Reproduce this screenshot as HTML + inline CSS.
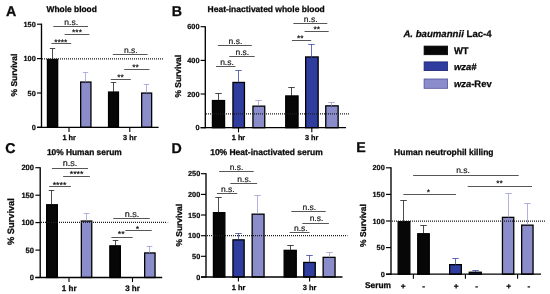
<!DOCTYPE html>
<html><head><meta charset="utf-8"><title>Figure</title>
<style>html,body{margin:0;padding:0;background:#fff}svg{display:block}text{font-family:"Liberation Sans",Arial,Helvetica,sans-serif;text-rendering:geometricPrecision}</style>
</head><body>
<svg width="550" height="294" viewBox="0 0 550 294">
<rect width="550" height="294" fill="#fff"/>
<text x="6.10" y="15.90" font-size="14.20" font-weight="bold" text-anchor="start" fill="#0a0a0a" stroke="#0a0a0a" stroke-width="0.28">A</text>
<text x="46.60" y="12.30" font-size="8.39" font-weight="bold" text-anchor="start" fill="#0a0a0a" stroke="#0a0a0a" stroke-width="0.28">Whole blood</text>
<text x="17.10" y="75.00" font-size="8.46" font-weight="bold" text-anchor="middle" fill="#0a0a0a" stroke="#0a0a0a" stroke-width="0.28" transform="rotate(-90 17.10 75.00)">% Survival</text>
<rect x="47.45" y="59.45" width="10.20" height="67.85" fill="#070707" stroke="#000" stroke-width="1.3"/>
<rect x="80.65" y="82.05" width="10.30" height="45.25" fill="#8b8dcb" stroke="#000" stroke-width="1.3"/>
<rect x="108.55" y="92.05" width="9.90" height="35.25" fill="#070707" stroke="#000" stroke-width="1.3"/>
<rect x="141.65" y="93.05" width="10.00" height="34.25" fill="#8b8dcb" stroke="#000" stroke-width="1.3"/>
<line x1="52.50" y1="48.50" x2="52.50" y2="59.00" stroke="#111" stroke-width="0.75"/>
<line x1="49.80" y1="48.50" x2="55.20" y2="48.50" stroke="#111" stroke-width="0.75"/>
<line x1="85.50" y1="72.50" x2="85.50" y2="82.00" stroke="#8f91d0" stroke-width="0.7"/>
<line x1="82.80" y1="72.50" x2="88.20" y2="72.50" stroke="#8f91d0" stroke-width="0.7"/>
<line x1="113.50" y1="82.50" x2="113.50" y2="92.00" stroke="#111" stroke-width="0.75"/>
<line x1="110.80" y1="82.50" x2="116.20" y2="82.50" stroke="#111" stroke-width="0.75"/>
<line x1="146.50" y1="84.50" x2="146.50" y2="93.00" stroke="#8f91d0" stroke-width="0.7"/>
<line x1="143.80" y1="84.50" x2="149.20" y2="84.50" stroke="#8f91d0" stroke-width="0.7"/>
<line x1="41.50" y1="23.65" x2="41.50" y2="127.80" stroke="#000" stroke-width="1.35"/>
<line x1="37.00" y1="24.20" x2="41.50" y2="24.20" stroke="#000" stroke-width="1.15"/>
<text transform="translate(35.75 26.83) scale(1.000 1)" font-size="7.35" font-weight="bold" text-anchor="end" fill="#0a0a0a" stroke="#0a0a0a" stroke-width="0.2">150</text>
<line x1="37.00" y1="58.60" x2="41.50" y2="58.60" stroke="#000" stroke-width="1.15"/>
<text transform="translate(35.75 61.23) scale(1.000 1)" font-size="7.35" font-weight="bold" text-anchor="end" fill="#0a0a0a" stroke="#0a0a0a" stroke-width="0.2">100</text>
<line x1="37.00" y1="93.00" x2="41.50" y2="93.00" stroke="#000" stroke-width="1.15"/>
<text transform="translate(35.75 95.63) scale(1.000 1)" font-size="7.35" font-weight="bold" text-anchor="end" fill="#0a0a0a" stroke="#0a0a0a" stroke-width="0.2">50</text>
<line x1="37.00" y1="127.30" x2="41.50" y2="127.30" stroke="#000" stroke-width="1.15"/>
<text transform="translate(35.75 129.93) scale(1.000 1)" font-size="7.35" font-weight="bold" text-anchor="end" fill="#0a0a0a" stroke="#0a0a0a" stroke-width="0.2">0</text>
<line x1="37.00" y1="127.30" x2="158.60" y2="127.30" stroke="#000" stroke-width="1.3"/>
<line x1="69.00" y1="127.30" x2="69.00" y2="131.90" stroke="#000" stroke-width="1.1"/>
<line x1="129.80" y1="127.30" x2="129.80" y2="131.90" stroke="#000" stroke-width="1.1"/>
<text x="69.10" y="139.80" font-size="7.30" font-weight="bold" text-anchor="middle" fill="#0a0a0a" stroke="#0a0a0a" stroke-width="0.28">1 hr</text>
<text x="129.80" y="139.80" font-size="7.30" font-weight="bold" text-anchor="middle" fill="#0a0a0a" stroke="#0a0a0a" stroke-width="0.28">3 hr</text>
<line x1="42.00" y1="58.80" x2="163.70" y2="58.80" stroke="#1c1c1c" stroke-width="1.2" stroke-dasharray="1 1"/>
<line x1="53.30" y1="26.50" x2="88.00" y2="26.50" stroke="#444" stroke-width="0.9"/>
<text x="71.20" y="25.00" font-size="8.50" font-weight="normal" text-anchor="middle" fill="#1a1a1a" stroke="#1a1a1a" stroke-width="0.2">n.s.</text>
<line x1="64.60" y1="34.50" x2="89.40" y2="34.50" stroke="#444" stroke-width="0.9"/>
<text x="77.00" y="34.67" font-size="8.40" font-weight="normal" text-anchor="middle" fill="#000" stroke="#000" stroke-width="0.14">***</text>
<line x1="51.40" y1="43.50" x2="71.20" y2="43.50" stroke="#444" stroke-width="0.9"/>
<text x="60.80" y="45.07" font-size="8.40" font-weight="normal" text-anchor="middle" fill="#000" stroke="#000" stroke-width="0.14">****</text>
<line x1="112.80" y1="54.50" x2="147.60" y2="54.50" stroke="#444" stroke-width="0.9"/>
<text x="130.80" y="53.30" font-size="8.50" font-weight="normal" text-anchor="middle" fill="#1a1a1a" stroke="#1a1a1a" stroke-width="0.2">n.s.</text>
<line x1="124.20" y1="69.50" x2="149.40" y2="69.50" stroke="#444" stroke-width="0.9"/>
<text x="135.50" y="70.37" font-size="8.40" font-weight="normal" text-anchor="middle" fill="#000" stroke="#000" stroke-width="0.14">**</text>
<line x1="110.80" y1="79.50" x2="130.80" y2="79.50" stroke="#444" stroke-width="0.9"/>
<text x="120.40" y="80.27" font-size="8.40" font-weight="normal" text-anchor="middle" fill="#000" stroke="#000" stroke-width="0.14">**</text>
<text x="171.80" y="15.80" font-size="14.20" font-weight="bold" text-anchor="start" fill="#0a0a0a" stroke="#0a0a0a" stroke-width="0.28">B</text>
<text x="207.60" y="12.20" font-size="8.47" font-weight="bold" text-anchor="start" fill="#0a0a0a" stroke="#0a0a0a" stroke-width="0.28">Heat-inactivated whole blood</text>
<text x="181.20" y="76.20" font-size="8.46" font-weight="bold" text-anchor="middle" fill="#0a0a0a" stroke="#0a0a0a" stroke-width="0.28" transform="rotate(-90 181.20 76.20)">% Survival</text>
<rect x="212.45" y="100.55" width="12.10" height="27.15" fill="#070707" stroke="#000" stroke-width="1.3"/>
<rect x="232.95" y="82.45" width="11.50" height="45.25" fill="#2f3d9f" stroke="#000" stroke-width="1.3"/>
<rect x="252.95" y="106.15" width="11.80" height="21.55" fill="#8b8dcb" stroke="#000" stroke-width="1.3"/>
<rect x="285.75" y="95.95" width="12.30" height="31.75" fill="#070707" stroke="#000" stroke-width="1.3"/>
<rect x="305.65" y="56.95" width="12.50" height="70.75" fill="#2f3d9f" stroke="#000" stroke-width="1.3"/>
<rect x="325.75" y="105.85" width="12.40" height="21.85" fill="#8b8dcb" stroke="#000" stroke-width="1.3"/>
<line x1="218.50" y1="93.50" x2="218.50" y2="100.00" stroke="#111" stroke-width="0.75"/>
<line x1="215.25" y1="93.50" x2="221.75" y2="93.50" stroke="#111" stroke-width="0.75"/>
<line x1="238.50" y1="70.50" x2="238.50" y2="82.50" stroke="#2f3d9f" stroke-width="0.75"/>
<line x1="235.25" y1="70.50" x2="241.75" y2="70.50" stroke="#2f3d9f" stroke-width="0.75"/>
<line x1="258.50" y1="100.50" x2="258.50" y2="106.00" stroke="#8f91d0" stroke-width="0.7"/>
<line x1="255.25" y1="100.50" x2="261.75" y2="100.50" stroke="#8f91d0" stroke-width="0.7"/>
<line x1="291.50" y1="87.50" x2="291.50" y2="96.00" stroke="#111" stroke-width="0.75"/>
<line x1="288.25" y1="87.50" x2="294.75" y2="87.50" stroke="#111" stroke-width="0.75"/>
<line x1="311.50" y1="44.50" x2="311.50" y2="60.00" stroke="#2f3d9f" stroke-width="0.75"/>
<line x1="308.25" y1="44.50" x2="314.75" y2="44.50" stroke="#2f3d9f" stroke-width="0.75"/>
<line x1="331.50" y1="102.50" x2="331.50" y2="106.00" stroke="#8f91d0" stroke-width="0.7"/>
<line x1="328.25" y1="102.50" x2="334.75" y2="102.50" stroke="#8f91d0" stroke-width="0.7"/>
<line x1="205.30" y1="26.15" x2="205.30" y2="128.20" stroke="#000" stroke-width="1.35"/>
<line x1="200.60" y1="26.70" x2="205.30" y2="26.70" stroke="#000" stroke-width="1.15"/>
<text transform="translate(199.55 29.33) scale(1.000 1)" font-size="7.35" font-weight="bold" text-anchor="end" fill="#0a0a0a" stroke="#0a0a0a" stroke-width="0.2">600</text>
<line x1="200.60" y1="60.40" x2="205.30" y2="60.40" stroke="#000" stroke-width="1.15"/>
<text transform="translate(199.55 63.03) scale(1.000 1)" font-size="7.35" font-weight="bold" text-anchor="end" fill="#0a0a0a" stroke="#0a0a0a" stroke-width="0.2">400</text>
<line x1="200.60" y1="94.00" x2="205.30" y2="94.00" stroke="#000" stroke-width="1.15"/>
<text transform="translate(199.55 96.63) scale(1.000 1)" font-size="7.35" font-weight="bold" text-anchor="end" fill="#0a0a0a" stroke="#0a0a0a" stroke-width="0.2">200</text>
<line x1="200.60" y1="127.70" x2="205.30" y2="127.70" stroke="#000" stroke-width="1.15"/>
<text transform="translate(199.55 130.33) scale(1.000 1)" font-size="7.35" font-weight="bold" text-anchor="end" fill="#0a0a0a" stroke="#0a0a0a" stroke-width="0.2">0</text>
<line x1="200.60" y1="127.70" x2="346.00" y2="127.70" stroke="#000" stroke-width="1.3"/>
<line x1="238.50" y1="127.70" x2="238.50" y2="132.30" stroke="#000" stroke-width="1.1"/>
<line x1="311.80" y1="127.70" x2="311.80" y2="132.30" stroke="#000" stroke-width="1.1"/>
<text x="238.50" y="139.80" font-size="7.30" font-weight="bold" text-anchor="middle" fill="#0a0a0a" stroke="#0a0a0a" stroke-width="0.28">1 hr</text>
<text x="311.60" y="139.80" font-size="7.30" font-weight="bold" text-anchor="middle" fill="#0a0a0a" stroke="#0a0a0a" stroke-width="0.28">3 hr</text>
<line x1="206.00" y1="113.90" x2="350.00" y2="113.90" stroke="#1c1c1c" stroke-width="1.2" stroke-dasharray="1 1"/>
<line x1="217.90" y1="45.50" x2="251.80" y2="45.50" stroke="#444" stroke-width="0.9"/>
<text x="235.40" y="43.70" font-size="8.50" font-weight="normal" text-anchor="middle" fill="#1a1a1a" stroke="#1a1a1a" stroke-width="0.2">n.s.</text>
<line x1="229.30" y1="56.50" x2="254.70" y2="56.50" stroke="#444" stroke-width="0.9"/>
<text x="242.30" y="54.70" font-size="8.50" font-weight="normal" text-anchor="middle" fill="#1a1a1a" stroke="#1a1a1a" stroke-width="0.2">n.s.</text>
<line x1="216.00" y1="66.50" x2="235.40" y2="66.50" stroke="#444" stroke-width="0.9"/>
<text x="227.00" y="64.80" font-size="8.50" font-weight="normal" text-anchor="middle" fill="#1a1a1a" stroke="#1a1a1a" stroke-width="0.2">n.s.</text>
<line x1="293.30" y1="23.50" x2="327.30" y2="23.50" stroke="#444" stroke-width="0.9"/>
<text x="310.70" y="21.90" font-size="8.50" font-weight="normal" text-anchor="middle" fill="#1a1a1a" stroke="#1a1a1a" stroke-width="0.2">n.s.</text>
<line x1="304.60" y1="31.50" x2="328.70" y2="31.50" stroke="#444" stroke-width="0.9"/>
<text x="316.70" y="31.67" font-size="8.40" font-weight="normal" text-anchor="middle" fill="#000" stroke="#000" stroke-width="0.14">**</text>
<line x1="291.90" y1="40.50" x2="311.20" y2="40.50" stroke="#444" stroke-width="0.9"/>
<text x="300.20" y="41.37" font-size="8.40" font-weight="normal" text-anchor="middle" fill="#000" stroke="#000" stroke-width="0.14">**</text>
<text x="5.20" y="153.00" font-size="14.20" font-weight="bold" text-anchor="start" fill="#0a0a0a" stroke="#0a0a0a" stroke-width="0.28">C</text>
<text x="46.90" y="154.60" font-size="8.37" font-weight="bold" text-anchor="start" fill="#0a0a0a" stroke="#0a0a0a" stroke-width="0.28">10% Human serum</text>
<text x="14.35" y="221.60" font-size="9.28" font-weight="bold" text-anchor="middle" fill="#0a0a0a" stroke="#0a0a0a" stroke-width="0.28" transform="rotate(-90 14.35 221.60)">% Survival</text>
<rect x="46.65" y="204.75" width="10.70" height="72.75" fill="#070707" stroke="#000" stroke-width="1.3"/>
<rect x="81.35" y="221.05" width="10.40" height="56.45" fill="#8b8dcb" stroke="#000" stroke-width="1.3"/>
<rect x="109.85" y="245.85" width="10.50" height="31.65" fill="#070707" stroke="#000" stroke-width="1.3"/>
<rect x="144.65" y="252.95" width="10.40" height="24.55" fill="#8b8dcb" stroke="#000" stroke-width="1.3"/>
<line x1="51.50" y1="190.50" x2="51.50" y2="205.00" stroke="#111" stroke-width="0.75"/>
<line x1="48.70" y1="190.50" x2="54.30" y2="190.50" stroke="#111" stroke-width="0.75"/>
<line x1="86.50" y1="213.50" x2="86.50" y2="221.00" stroke="#8f91d0" stroke-width="0.7"/>
<line x1="83.70" y1="213.50" x2="89.30" y2="213.50" stroke="#8f91d0" stroke-width="0.7"/>
<line x1="115.50" y1="240.50" x2="115.50" y2="246.00" stroke="#111" stroke-width="0.75"/>
<line x1="112.70" y1="240.50" x2="118.30" y2="240.50" stroke="#111" stroke-width="0.75"/>
<line x1="149.50" y1="246.50" x2="149.50" y2="253.00" stroke="#8f91d0" stroke-width="0.7"/>
<line x1="146.70" y1="246.50" x2="152.30" y2="246.50" stroke="#8f91d0" stroke-width="0.7"/>
<line x1="40.20" y1="167.15" x2="40.20" y2="278.00" stroke="#000" stroke-width="1.35"/>
<line x1="35.40" y1="167.70" x2="40.20" y2="167.70" stroke="#000" stroke-width="1.15"/>
<text transform="translate(34.05 170.42) scale(1.000 1)" font-size="7.60" font-weight="bold" text-anchor="end" fill="#0a0a0a" stroke="#0a0a0a" stroke-width="0.2">200</text>
<line x1="35.40" y1="195.20" x2="40.20" y2="195.20" stroke="#000" stroke-width="1.15"/>
<text transform="translate(34.05 197.92) scale(1.000 1)" font-size="7.60" font-weight="bold" text-anchor="end" fill="#0a0a0a" stroke="#0a0a0a" stroke-width="0.2">150</text>
<line x1="35.40" y1="222.60" x2="40.20" y2="222.60" stroke="#000" stroke-width="1.15"/>
<text transform="translate(34.05 225.32) scale(1.000 1)" font-size="7.60" font-weight="bold" text-anchor="end" fill="#0a0a0a" stroke="#0a0a0a" stroke-width="0.2">100</text>
<line x1="35.40" y1="250.10" x2="40.20" y2="250.10" stroke="#000" stroke-width="1.15"/>
<text transform="translate(34.05 252.82) scale(1.000 1)" font-size="7.60" font-weight="bold" text-anchor="end" fill="#0a0a0a" stroke="#0a0a0a" stroke-width="0.2">50</text>
<line x1="35.40" y1="277.50" x2="40.20" y2="277.50" stroke="#000" stroke-width="1.15"/>
<text transform="translate(34.05 280.22) scale(1.000 1)" font-size="7.60" font-weight="bold" text-anchor="end" fill="#0a0a0a" stroke="#0a0a0a" stroke-width="0.2">0</text>
<line x1="35.40" y1="277.50" x2="162.20" y2="277.50" stroke="#000" stroke-width="1.3"/>
<line x1="69.00" y1="277.50" x2="69.00" y2="282.10" stroke="#000" stroke-width="1.1"/>
<line x1="132.50" y1="277.50" x2="132.50" y2="282.10" stroke="#000" stroke-width="1.1"/>
<text x="69.20" y="290.60" font-size="8.00" font-weight="bold" text-anchor="middle" fill="#0a0a0a" stroke="#0a0a0a" stroke-width="0.28">1 hr</text>
<text x="132.50" y="290.60" font-size="8.00" font-weight="bold" text-anchor="middle" fill="#0a0a0a" stroke="#0a0a0a" stroke-width="0.28">3 hr</text>
<line x1="41.00" y1="222.30" x2="166.60" y2="222.30" stroke="#1c1c1c" stroke-width="1.2" stroke-dasharray="1 1"/>
<line x1="51.90" y1="168.50" x2="88.00" y2="168.50" stroke="#444" stroke-width="0.9"/>
<text x="70.10" y="166.20" font-size="9.00" font-weight="normal" text-anchor="middle" fill="#1a1a1a" stroke="#1a1a1a" stroke-width="0.2">n.s.</text>
<line x1="63.10" y1="176.50" x2="89.90" y2="176.50" stroke="#444" stroke-width="0.9"/>
<text x="76.60" y="177.40" font-size="8.80" font-weight="normal" text-anchor="middle" fill="#000" stroke="#000" stroke-width="0.14">****</text>
<line x1="49.20" y1="186.50" x2="70.90" y2="186.50" stroke="#444" stroke-width="0.9"/>
<text x="59.50" y="187.60" font-size="8.80" font-weight="normal" text-anchor="middle" fill="#000" stroke="#000" stroke-width="0.14">****</text>
<line x1="113.30" y1="218.50" x2="149.80" y2="218.50" stroke="#444" stroke-width="0.9"/>
<text x="132.00" y="217.00" font-size="9.00" font-weight="normal" text-anchor="middle" fill="#1a1a1a" stroke="#1a1a1a" stroke-width="0.2">n.s.</text>
<line x1="125.30" y1="230.50" x2="151.70" y2="230.50" stroke="#444" stroke-width="0.9"/>
<text x="137.50" y="231.90" font-size="8.80" font-weight="normal" text-anchor="middle" fill="#000" stroke="#000" stroke-width="0.14">*</text>
<line x1="111.40" y1="237.50" x2="132.70" y2="237.50" stroke="#444" stroke-width="0.9"/>
<text x="121.30" y="237.40" font-size="8.80" font-weight="normal" text-anchor="middle" fill="#000" stroke="#000" stroke-width="0.14">**</text>
<text x="171.50" y="152.50" font-size="14.20" font-weight="bold" text-anchor="start" fill="#0a0a0a" stroke="#0a0a0a" stroke-width="0.28">D</text>
<text x="210.20" y="154.60" font-size="8.48" font-weight="bold" text-anchor="start" fill="#0a0a0a" stroke="#0a0a0a" stroke-width="0.28">10% Heat-inactivated serum</text>
<text x="181.70" y="225.20" font-size="8.46" font-weight="bold" text-anchor="middle" fill="#0a0a0a" stroke="#0a0a0a" stroke-width="0.28" transform="rotate(-90 181.70 225.20)">% Survival</text>
<rect x="213.45" y="212.65" width="11.40" height="64.35" fill="#070707" stroke="#000" stroke-width="1.3"/>
<rect x="232.95" y="239.85" width="11.20" height="37.15" fill="#2f3d9f" stroke="#000" stroke-width="1.3"/>
<rect x="252.15" y="214.15" width="11.90" height="62.85" fill="#8b8dcb" stroke="#000" stroke-width="1.3"/>
<rect x="284.15" y="250.35" width="12.10" height="26.65" fill="#070707" stroke="#000" stroke-width="1.3"/>
<rect x="303.75" y="262.45" width="11.50" height="14.55" fill="#2f3d9f" stroke="#000" stroke-width="1.3"/>
<rect x="323.15" y="257.35" width="11.90" height="19.65" fill="#8b8dcb" stroke="#000" stroke-width="1.3"/>
<line x1="218.50" y1="197.50" x2="218.50" y2="213.00" stroke="#111" stroke-width="0.75"/>
<line x1="215.25" y1="197.50" x2="221.75" y2="197.50" stroke="#111" stroke-width="0.75"/>
<line x1="238.50" y1="233.50" x2="238.50" y2="240.00" stroke="#2f3d9f" stroke-width="0.75"/>
<line x1="235.25" y1="233.50" x2="241.75" y2="233.50" stroke="#2f3d9f" stroke-width="0.75"/>
<line x1="257.50" y1="195.50" x2="257.50" y2="214.00" stroke="#8f91d0" stroke-width="0.7"/>
<line x1="254.25" y1="195.50" x2="260.75" y2="195.50" stroke="#8f91d0" stroke-width="0.7"/>
<line x1="290.50" y1="245.50" x2="290.50" y2="250.00" stroke="#111" stroke-width="0.75"/>
<line x1="287.25" y1="245.50" x2="293.75" y2="245.50" stroke="#111" stroke-width="0.75"/>
<line x1="309.50" y1="255.50" x2="309.50" y2="262.50" stroke="#2f3d9f" stroke-width="0.75"/>
<line x1="306.25" y1="255.50" x2="312.75" y2="255.50" stroke="#2f3d9f" stroke-width="0.75"/>
<line x1="329.50" y1="252.50" x2="329.50" y2="257.50" stroke="#8f91d0" stroke-width="0.7"/>
<line x1="326.25" y1="252.50" x2="332.75" y2="252.50" stroke="#8f91d0" stroke-width="0.7"/>
<line x1="206.00" y1="173.15" x2="206.00" y2="277.50" stroke="#000" stroke-width="1.35"/>
<line x1="201.00" y1="173.70" x2="206.00" y2="173.70" stroke="#000" stroke-width="1.15"/>
<text transform="translate(200.25 176.33) scale(1.000 1)" font-size="7.35" font-weight="bold" text-anchor="end" fill="#0a0a0a" stroke="#0a0a0a" stroke-width="0.2">250</text>
<line x1="201.00" y1="194.40" x2="206.00" y2="194.40" stroke="#000" stroke-width="1.15"/>
<text transform="translate(200.25 197.03) scale(1.000 1)" font-size="7.35" font-weight="bold" text-anchor="end" fill="#0a0a0a" stroke="#0a0a0a" stroke-width="0.2">200</text>
<line x1="201.00" y1="215.00" x2="206.00" y2="215.00" stroke="#000" stroke-width="1.15"/>
<text transform="translate(200.25 217.63) scale(1.000 1)" font-size="7.35" font-weight="bold" text-anchor="end" fill="#0a0a0a" stroke="#0a0a0a" stroke-width="0.2">150</text>
<line x1="201.00" y1="235.70" x2="206.00" y2="235.70" stroke="#000" stroke-width="1.15"/>
<text transform="translate(200.25 238.33) scale(1.000 1)" font-size="7.35" font-weight="bold" text-anchor="end" fill="#0a0a0a" stroke="#0a0a0a" stroke-width="0.2">100</text>
<line x1="201.00" y1="256.30" x2="206.00" y2="256.30" stroke="#000" stroke-width="1.15"/>
<text transform="translate(200.25 258.93) scale(1.000 1)" font-size="7.35" font-weight="bold" text-anchor="end" fill="#0a0a0a" stroke="#0a0a0a" stroke-width="0.2">50</text>
<line x1="201.00" y1="277.00" x2="206.00" y2="277.00" stroke="#000" stroke-width="1.15"/>
<text transform="translate(200.25 279.63) scale(1.000 1)" font-size="7.35" font-weight="bold" text-anchor="end" fill="#0a0a0a" stroke="#0a0a0a" stroke-width="0.2">0</text>
<line x1="201.00" y1="277.00" x2="342.50" y2="277.00" stroke="#000" stroke-width="1.3"/>
<line x1="238.40" y1="277.00" x2="238.40" y2="281.60" stroke="#000" stroke-width="1.1"/>
<line x1="309.60" y1="277.00" x2="309.60" y2="281.60" stroke="#000" stroke-width="1.1"/>
<text x="238.50" y="289.60" font-size="7.40" font-weight="bold" text-anchor="middle" fill="#0a0a0a" stroke="#0a0a0a" stroke-width="0.28">1 hr</text>
<text x="309.60" y="289.60" font-size="7.40" font-weight="bold" text-anchor="middle" fill="#0a0a0a" stroke="#0a0a0a" stroke-width="0.28">3 hr</text>
<line x1="207.00" y1="235.60" x2="347.40" y2="235.60" stroke="#1c1c1c" stroke-width="1.2" stroke-dasharray="1 1"/>
<line x1="219.10" y1="171.50" x2="253.70" y2="171.50" stroke="#444" stroke-width="0.9"/>
<text x="236.50" y="170.10" font-size="8.50" font-weight="normal" text-anchor="middle" fill="#1a1a1a" stroke="#1a1a1a" stroke-width="0.2">n.s.</text>
<line x1="230.30" y1="183.50" x2="257.10" y2="183.50" stroke="#444" stroke-width="0.9"/>
<text x="244.20" y="181.80" font-size="8.50" font-weight="normal" text-anchor="middle" fill="#1a1a1a" stroke="#1a1a1a" stroke-width="0.2">n.s.</text>
<line x1="216.90" y1="193.50" x2="237.20" y2="193.50" stroke="#444" stroke-width="0.9"/>
<text x="227.80" y="191.60" font-size="8.50" font-weight="normal" text-anchor="middle" fill="#1a1a1a" stroke="#1a1a1a" stroke-width="0.2">n.s.</text>
<line x1="291.30" y1="211.50" x2="325.70" y2="211.50" stroke="#444" stroke-width="0.9"/>
<text x="309.30" y="209.50" font-size="8.50" font-weight="normal" text-anchor="middle" fill="#1a1a1a" stroke="#1a1a1a" stroke-width="0.2">n.s.</text>
<line x1="302.30" y1="223.50" x2="328.90" y2="223.50" stroke="#444" stroke-width="0.9"/>
<text x="316.50" y="221.20" font-size="8.50" font-weight="normal" text-anchor="middle" fill="#1a1a1a" stroke="#1a1a1a" stroke-width="0.2">n.s.</text>
<line x1="289.60" y1="232.50" x2="309.60" y2="232.50" stroke="#444" stroke-width="0.9"/>
<text x="300.80" y="231.10" font-size="8.50" font-weight="normal" text-anchor="middle" fill="#1a1a1a" stroke="#1a1a1a" stroke-width="0.2">n.s.</text>
<text x="356.30" y="152.40" font-size="14.20" font-weight="bold" text-anchor="start" fill="#0a0a0a" stroke="#0a0a0a" stroke-width="0.28">E</text>
<text x="394.10" y="154.60" font-size="8.49" font-weight="bold" text-anchor="start" fill="#0a0a0a" stroke="#0a0a0a" stroke-width="0.28">Human neutrophil killing</text>
<text x="366.20" y="225.50" font-size="8.46" font-weight="bold" text-anchor="middle" fill="#0a0a0a" stroke="#0a0a0a" stroke-width="0.28" transform="rotate(-90 366.20 225.50)">% Survival</text>
<rect x="398.15" y="221.65" width="11.70" height="52.55" fill="#070707" stroke="#000" stroke-width="1.3"/>
<rect x="417.75" y="233.75" width="11.50" height="40.45" fill="#070707" stroke="#000" stroke-width="1.3"/>
<rect x="449.65" y="264.65" width="11.70" height="9.55" fill="#2f3d9f" stroke="#000" stroke-width="1.3"/>
<rect x="469.25" y="272.25" width="12.10" height="1.95" fill="#2f3d9f" stroke="#000" stroke-width="1.3"/>
<rect x="502.45" y="217.35" width="11.30" height="56.85" fill="#8b8dcb" stroke="#000" stroke-width="1.3"/>
<rect x="521.65" y="225.15" width="11.40" height="49.05" fill="#8b8dcb" stroke="#000" stroke-width="1.3"/>
<line x1="403.50" y1="200.50" x2="403.50" y2="222.00" stroke="#111" stroke-width="0.75"/>
<line x1="400.25" y1="200.50" x2="406.75" y2="200.50" stroke="#111" stroke-width="0.75"/>
<line x1="423.50" y1="225.50" x2="423.50" y2="234.00" stroke="#111" stroke-width="0.75"/>
<line x1="420.25" y1="225.50" x2="426.75" y2="225.50" stroke="#111" stroke-width="0.75"/>
<line x1="455.50" y1="258.50" x2="455.50" y2="265.00" stroke="#2f3d9f" stroke-width="0.75"/>
<line x1="452.25" y1="258.50" x2="458.75" y2="258.50" stroke="#2f3d9f" stroke-width="0.75"/>
<line x1="475.50" y1="270.50" x2="475.50" y2="272.00" stroke="#2f3d9f" stroke-width="0.75"/>
<line x1="472.25" y1="270.50" x2="478.75" y2="270.50" stroke="#2f3d9f" stroke-width="0.75"/>
<line x1="508.50" y1="193.50" x2="508.50" y2="217.50" stroke="#8f91d0" stroke-width="0.7"/>
<line x1="505.25" y1="193.50" x2="511.75" y2="193.50" stroke="#8f91d0" stroke-width="0.7"/>
<line x1="527.50" y1="203.50" x2="527.50" y2="225.00" stroke="#8f91d0" stroke-width="0.7"/>
<line x1="524.25" y1="203.50" x2="530.75" y2="203.50" stroke="#8f91d0" stroke-width="0.7"/>
<line x1="391.00" y1="167.25" x2="391.00" y2="274.70" stroke="#000" stroke-width="1.35"/>
<line x1="386.00" y1="167.80" x2="391.00" y2="167.80" stroke="#000" stroke-width="1.15"/>
<text transform="translate(384.75 170.43) scale(1.000 1)" font-size="7.35" font-weight="bold" text-anchor="end" fill="#0a0a0a" stroke="#0a0a0a" stroke-width="0.2">200</text>
<line x1="386.00" y1="194.40" x2="391.00" y2="194.40" stroke="#000" stroke-width="1.15"/>
<text transform="translate(384.75 197.03) scale(1.000 1)" font-size="7.35" font-weight="bold" text-anchor="end" fill="#0a0a0a" stroke="#0a0a0a" stroke-width="0.2">150</text>
<line x1="386.00" y1="221.00" x2="391.00" y2="221.00" stroke="#000" stroke-width="1.15"/>
<text transform="translate(384.75 223.63) scale(1.000 1)" font-size="7.35" font-weight="bold" text-anchor="end" fill="#0a0a0a" stroke="#0a0a0a" stroke-width="0.2">100</text>
<line x1="386.00" y1="247.60" x2="391.00" y2="247.60" stroke="#000" stroke-width="1.15"/>
<text transform="translate(384.75 250.23) scale(1.000 1)" font-size="7.35" font-weight="bold" text-anchor="end" fill="#0a0a0a" stroke="#0a0a0a" stroke-width="0.2">50</text>
<line x1="386.00" y1="274.20" x2="391.00" y2="274.20" stroke="#000" stroke-width="1.15"/>
<text transform="translate(384.75 276.83) scale(1.000 1)" font-size="7.35" font-weight="bold" text-anchor="end" fill="#0a0a0a" stroke="#0a0a0a" stroke-width="0.2">0</text>
<line x1="386.00" y1="274.20" x2="541.00" y2="274.20" stroke="#000" stroke-width="1.3"/>
<line x1="413.40" y1="274.20" x2="413.40" y2="278.80" stroke="#000" stroke-width="1.1"/>
<line x1="465.40" y1="274.20" x2="465.40" y2="278.80" stroke="#000" stroke-width="1.1"/>
<line x1="517.60" y1="274.20" x2="517.60" y2="278.80" stroke="#000" stroke-width="1.1"/>
<line x1="392.00" y1="221.10" x2="545.40" y2="221.10" stroke="#1c1c1c" stroke-width="1.2" stroke-dasharray="1 1"/>
<line x1="413.10" y1="175.50" x2="518.70" y2="175.50" stroke="#444" stroke-width="0.9"/>
<text x="463.00" y="173.10" font-size="8.50" font-weight="normal" text-anchor="middle" fill="#1a1a1a" stroke="#1a1a1a" stroke-width="0.2">n.s.</text>
<line x1="467.70" y1="186.50" x2="532.00" y2="186.50" stroke="#444" stroke-width="0.9"/>
<text x="499.60" y="186.27" font-size="8.40" font-weight="normal" text-anchor="middle" fill="#000" stroke="#000" stroke-width="0.14">**</text>
<line x1="403.30" y1="194.50" x2="456.00" y2="194.50" stroke="#444" stroke-width="0.9"/>
<text x="428.50" y="194.67" font-size="8.40" font-weight="normal" text-anchor="middle" fill="#000" stroke="#000" stroke-width="0.14">*</text>
<text x="365.00" y="288.40" font-size="8.35" font-weight="bold" text-anchor="start" fill="#0a0a0a" stroke="#0a0a0a" stroke-width="0.28">Serum</text>
<text x="403.30" y="289.20" font-size="8.30" font-weight="bold" text-anchor="middle" fill="#0a0a0a" stroke="#0a0a0a" stroke-width="0.28">+</text>
<text x="423.60" y="288.80" font-size="8.30" font-weight="bold" text-anchor="middle" fill="#0a0a0a" stroke="#0a0a0a" stroke-width="0.28">-</text>
<text x="456.20" y="289.20" font-size="8.30" font-weight="bold" text-anchor="middle" fill="#0a0a0a" stroke="#0a0a0a" stroke-width="0.28">+</text>
<text x="476.60" y="288.80" font-size="8.30" font-weight="bold" text-anchor="middle" fill="#0a0a0a" stroke="#0a0a0a" stroke-width="0.28">-</text>
<text x="508.60" y="289.20" font-size="8.30" font-weight="bold" text-anchor="middle" fill="#0a0a0a" stroke="#0a0a0a" stroke-width="0.28">+</text>
<text x="529.00" y="288.80" font-size="8.30" font-weight="bold" text-anchor="middle" fill="#0a0a0a" stroke="#0a0a0a" stroke-width="0.28">-</text>
<text x="403.4" y="36.7" font-size="9.64" font-weight="bold" fill="#0a0a0a" stroke="#0a0a0a" stroke-width="0.25"><tspan font-style="italic">A. baumannii</tspan> Lac-4</text>
<rect x="424.10" y="46.10" width="23.50" height="8.60" fill="#070707" stroke="#000" stroke-width="0.8"/>
<rect x="424.10" y="61.90" width="23.50" height="8.70" fill="#2f3d9f" stroke="#1a2372" stroke-width="0.8"/>
<rect x="424.10" y="79.00" width="23.50" height="9.30" fill="#8b8dcb" stroke="#4f5298" stroke-width="0.8"/>
<text x="453.90" y="54.10" font-size="9.45" font-weight="bold" text-anchor="start" fill="#0a0a0a" stroke="#0a0a0a" stroke-width="0.28">WT</text>
<text x="453.90" y="69.90" font-size="9.45" font-weight="bold" font-style="italic" text-anchor="start" fill="#0a0a0a" stroke="#0a0a0a" stroke-width="0.28">wza#</text>
<text x="453.9" y="86.6" font-size="9.45" font-weight="bold" fill="#0a0a0a" stroke="#0a0a0a" stroke-width="0.25"><tspan font-style="italic">wza</tspan>-Rev</text>
<circle cx="167.9" cy="222.6" r="0.5" fill="#888"/>
</svg>
</body></html>
